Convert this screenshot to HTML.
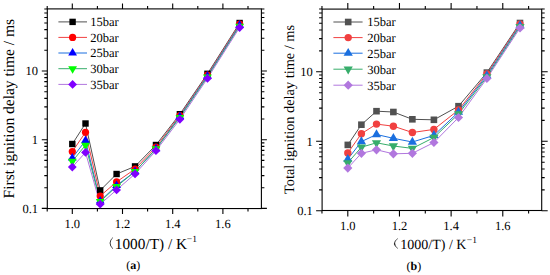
<!DOCTYPE html>
<html><head><meta charset="utf-8"><style>
html,body{margin:0;padding:0;background:#fff;}
svg{display:block;}
text{font-family:"Liberation Serif",serif;fill:#000;text-rendering:geometricPrecision;}
.tl{font-size:12.5px;}
.lg{font-size:12.5px;}
.ti{font-size:15.3px;}
.ti2{font-size:14.0px;}
.sup{font-size:8px;}
.lb{font-size:12px;}
</style></head><body>
<svg width="550" height="275" viewBox="0 0 550 275">
<rect width="550" height="275" fill="#fff"/>
<rect x="47.3" y="8.9" width="214.1" height="199.65" fill="none" stroke="#000" stroke-width="1.1"/>
<path d="M47.2 208.55v3M47.2 8.9v-3M72.3 208.55v5.5M72.3 8.9v-5.5M97.4 208.55v3M97.4 8.9v-3M122.5 208.55v5.5M122.5 8.9v-5.5M147.6 208.55v3M147.6 8.9v-3M172.7 208.55v5.5M172.7 8.9v-5.5M197.8 208.55v3M197.8 8.9v-3M222.9 208.55v5.5M222.9 8.9v-5.5M248 208.55v3M248 8.9v-3M47.3 208.4h-5.5M261.4 208.4h5.5M47.3 187.72h-3M261.4 187.72h3M47.3 175.62h-3M261.4 175.62h3M47.3 167.04h-3M261.4 167.04h3M47.3 160.38h-3M261.4 160.38h3M47.3 154.94h-3M261.4 154.94h3M47.3 150.34h-3M261.4 150.34h3M47.3 146.36h-3M261.4 146.36h3M47.3 142.84h-3M261.4 142.84h3M47.3 139.7h-5.5M261.4 139.7h5.5M47.3 119.02h-3M261.4 119.02h3M47.3 106.92h-3M261.4 106.92h3M47.3 98.34h-3M261.4 98.34h3M47.3 91.68h-3M261.4 91.68h3M47.3 86.24h-3M261.4 86.24h3M47.3 81.64h-3M261.4 81.64h3M47.3 77.66h-3M261.4 77.66h3M47.3 74.14h-3M261.4 74.14h3M47.3 71h-5.5M261.4 71h5.5M47.3 50.32h-3M261.4 50.32h3M47.3 38.22h-3M261.4 38.22h3M47.3 29.64h-3M261.4 29.64h3M47.3 22.98h-3M261.4 22.98h3M47.3 17.54h-3M261.4 17.54h3M47.3 12.94h-3M261.4 12.94h3M47.3 8.96h-3M261.4 8.96h3" stroke="#000" stroke-width="1.1" fill="none"/>
<text x="72.3" y="227.85" text-anchor="middle" class="tl">1.0</text>
<text x="122.5" y="227.85" text-anchor="middle" class="tl">1.2</text>
<text x="172.7" y="227.85" text-anchor="middle" class="tl">1.4</text>
<text x="222.9" y="227.85" text-anchor="middle" class="tl">1.6</text>
<text x="38" y="75.2" text-anchor="end" class="tl">10</text>
<text x="38" y="143.9" text-anchor="end" class="tl">1</text>
<text x="38" y="212.6" text-anchor="end" class="tl">0.1</text>
<polyline points="72.3,144 85.51,123.5 100.19,190.4 116.59,174 135.05,166.4 155.97,145 179.87,114.2 207.45,73.8 239.63,23" fill="none" stroke="#515151" stroke-width="1" stroke-linejoin="round"/>
<polyline points="72.3,151.6 85.51,132.3 100.19,196 116.59,181.9 135.05,169 155.97,147 179.87,115.5 207.45,75 239.63,24.2" fill="none" stroke="#F14040" stroke-width="1" stroke-linejoin="round"/>
<polyline points="72.3,158 85.51,140.5 100.19,201 116.59,185.5 135.05,171.5 155.97,148.8 179.87,116.5 207.45,76 239.63,25.2" fill="none" stroke="#1A6FDF" stroke-width="1" stroke-linejoin="round"/>
<polyline points="72.3,161.3 85.51,145.2 100.19,201.5 116.59,186.5 135.05,171.5 155.97,148.8 179.87,117.5 207.45,77 239.63,26.2" fill="none" stroke="#37AD6B" stroke-width="1" stroke-linejoin="round"/>
<polyline points="72.3,167.1 85.51,152.4 100.19,204.2 116.59,189.9 135.05,173.9 155.97,150.7 179.87,119.3 207.45,78.4 239.63,27.5" fill="none" stroke="#B177DE" stroke-width="1" stroke-linejoin="round"/>
<rect x="69.1" y="140.8" width="6.4" height="6.4" fill="#000000"/>
<rect x="82.31" y="120.3" width="6.4" height="6.4" fill="#000000"/>
<rect x="96.99" y="187.2" width="6.4" height="6.4" fill="#000000"/>
<rect x="113.39" y="170.8" width="6.4" height="6.4" fill="#000000"/>
<rect x="131.85" y="163.2" width="6.4" height="6.4" fill="#000000"/>
<rect x="152.77" y="141.8" width="6.4" height="6.4" fill="#000000"/>
<rect x="176.67" y="111" width="6.4" height="6.4" fill="#000000"/>
<rect x="204.25" y="70.6" width="6.4" height="6.4" fill="#000000"/>
<rect x="236.43" y="19.8" width="6.4" height="6.4" fill="#000000"/>
<circle cx="72.3" cy="151.6" r="3.6" fill="#FF0000"/>
<circle cx="85.51" cy="132.3" r="3.6" fill="#FF0000"/>
<circle cx="100.19" cy="196" r="3.6" fill="#FF0000"/>
<circle cx="116.59" cy="181.9" r="3.6" fill="#FF0000"/>
<circle cx="135.05" cy="169" r="3.6" fill="#FF0000"/>
<circle cx="155.97" cy="147" r="3.6" fill="#FF0000"/>
<circle cx="179.87" cy="115.5" r="3.6" fill="#FF0000"/>
<circle cx="207.45" cy="75" r="3.6" fill="#FF0000"/>
<circle cx="239.63" cy="24.2" r="3.6" fill="#FF0000"/>
<path d="M72.3 152.92L76.7 160.54L67.9 160.54Z" fill="#0000FF"/>
<path d="M85.51 135.42L89.91 143.04L81.11 143.04Z" fill="#0000FF"/>
<path d="M100.19 195.92L104.59 203.54L95.79 203.54Z" fill="#0000FF"/>
<path d="M116.59 180.42L120.99 188.04L112.19 188.04Z" fill="#0000FF"/>
<path d="M135.05 166.42L139.45 174.04L130.65 174.04Z" fill="#0000FF"/>
<path d="M155.97 143.72L160.37 151.34L151.57 151.34Z" fill="#0000FF"/>
<path d="M179.87 111.42L184.27 119.04L175.47 119.04Z" fill="#0000FF"/>
<path d="M207.45 70.92L211.85 78.54L203.05 78.54Z" fill="#0000FF"/>
<path d="M239.63 20.12L244.03 27.74L235.23 27.74Z" fill="#0000FF"/>
<path d="M72.3 166.38L76.7 158.76L67.9 158.76Z" fill="#00FF00"/>
<path d="M85.51 150.28L89.91 142.66L81.11 142.66Z" fill="#00FF00"/>
<path d="M100.19 206.58L104.59 198.96L95.79 198.96Z" fill="#00FF00"/>
<path d="M116.59 191.58L120.99 183.96L112.19 183.96Z" fill="#00FF00"/>
<path d="M135.05 176.58L139.45 168.96L130.65 168.96Z" fill="#00FF00"/>
<path d="M155.97 153.88L160.37 146.26L151.57 146.26Z" fill="#00FF00"/>
<path d="M179.87 122.58L184.27 114.96L175.47 114.96Z" fill="#00FF00"/>
<path d="M207.45 82.08L211.85 74.46L203.05 74.46Z" fill="#00FF00"/>
<path d="M239.63 31.28L244.03 23.66L235.23 23.66Z" fill="#00FF00"/>
<path d="M72.3 162.7L76.7 167.1L72.3 171.5L67.9 167.1Z" fill="#8000FF"/>
<path d="M85.51 148L89.91 152.4L85.51 156.8L81.11 152.4Z" fill="#8000FF"/>
<path d="M100.19 199.8L104.59 204.2L100.19 208.6L95.79 204.2Z" fill="#8000FF"/>
<path d="M116.59 185.5L120.99 189.9L116.59 194.3L112.19 189.9Z" fill="#8000FF"/>
<path d="M135.05 169.5L139.45 173.9L135.05 178.3L130.65 173.9Z" fill="#8000FF"/>
<path d="M155.97 146.3L160.37 150.7L155.97 155.1L151.57 150.7Z" fill="#8000FF"/>
<path d="M179.87 114.9L184.27 119.3L179.87 123.7L175.47 119.3Z" fill="#8000FF"/>
<path d="M207.45 74L211.85 78.4L207.45 82.8L203.05 78.4Z" fill="#8000FF"/>
<path d="M239.63 23.1L244.03 27.5L239.63 31.9L235.23 27.5Z" fill="#8000FF"/>
<rect x="322.1" y="9.1" width="219.6" height="201.4" fill="none" stroke="#000" stroke-width="1.1"/>
<path d="M321.97 210.5v3M321.97 9.1v-3M347.8 210.5v6M347.8 9.1v-6M373.63 210.5v3M373.63 9.1v-3M399.46 210.5v6M399.46 9.1v-6M425.29 210.5v3M425.29 9.1v-3M451.12 210.5v6M451.12 9.1v-6M476.95 210.5v3M476.95 9.1v-3M502.78 210.5v6M502.78 9.1v-6M528.61 210.5v3M528.61 9.1v-3M322.1 210.8h-6M541.7 210.8h6M322.1 189.88h-3M541.7 189.88h3M322.1 177.64h-3M541.7 177.64h3M322.1 168.96h-3M541.7 168.96h3M322.1 162.22h-3M541.7 162.22h3M322.1 156.72h-3M541.7 156.72h3M322.1 152.07h-3M541.7 152.07h3M322.1 148.04h-3M541.7 148.04h3M322.1 144.48h-3M541.7 144.48h3M322.1 141.3h-6M541.7 141.3h6M322.1 120.38h-3M541.7 120.38h3M322.1 108.14h-3M541.7 108.14h3M322.1 99.46h-3M541.7 99.46h3M322.1 92.72h-3M541.7 92.72h3M322.1 87.22h-3M541.7 87.22h3M322.1 82.57h-3M541.7 82.57h3M322.1 78.54h-3M541.7 78.54h3M322.1 74.98h-3M541.7 74.98h3M322.1 71.8h-6M541.7 71.8h6M322.1 50.88h-3M541.7 50.88h3M322.1 38.64h-3M541.7 38.64h3M322.1 29.96h-3M541.7 29.96h3M322.1 23.22h-3M541.7 23.22h3M322.1 17.72h-3M541.7 17.72h3M322.1 13.07h-3M541.7 13.07h3M322.1 9.04h-3M541.7 9.04h3" stroke="#000" stroke-width="1.1" fill="none"/>
<text x="347.8" y="229.8" text-anchor="middle" class="tl">1.0</text>
<text x="399.46" y="229.8" text-anchor="middle" class="tl">1.2</text>
<text x="451.12" y="229.8" text-anchor="middle" class="tl">1.4</text>
<text x="502.78" y="229.8" text-anchor="middle" class="tl">1.6</text>
<text x="312.8" y="76" text-anchor="end" class="tl">10</text>
<text x="312.8" y="145.5" text-anchor="end" class="tl">1</text>
<text x="312.8" y="215" text-anchor="end" class="tl">0.1</text>
<polyline points="347.8,144.9 361.39,124.7 376.5,111.2 393.38,112 412.38,119.3 433.9,119.8 458.5,106.2 486.88,72.6 520,23" fill="none" stroke="#515151" stroke-width="1" stroke-linejoin="round"/>
<polyline points="347.8,153 361.39,133.7 376.5,124.1 393.38,126.2 412.38,132.5 433.9,129.4 458.5,110 486.88,74 520,24.3" fill="none" stroke="#F14040" stroke-width="1" stroke-linejoin="round"/>
<polyline points="347.8,159.2 361.39,141.6 376.5,134.5 393.38,138.3 412.38,142 433.9,135.4 458.5,112 486.88,75.5 520,25.5" fill="none" stroke="#1A6FDF" stroke-width="1" stroke-linejoin="round"/>
<polyline points="347.8,162.8 361.39,147.2 376.5,142.8 393.38,146 412.38,148.4 433.9,137.5 458.5,114 486.88,77 520,26.6" fill="none" stroke="#37AD6B" stroke-width="1" stroke-linejoin="round"/>
<polyline points="347.8,168.1 361.39,153.3 376.5,149.8 393.38,153.8 412.38,153.3 433.9,142.5 458.5,117.5 486.88,78.4 520,28" fill="none" stroke="#B177DE" stroke-width="1" stroke-linejoin="round"/>
<rect x="344.5" y="141.6" width="6.6" height="6.6" fill="#515151"/>
<rect x="358.09" y="121.4" width="6.6" height="6.6" fill="#515151"/>
<rect x="373.2" y="107.9" width="6.6" height="6.6" fill="#515151"/>
<rect x="390.08" y="108.7" width="6.6" height="6.6" fill="#515151"/>
<rect x="409.07" y="116" width="6.6" height="6.6" fill="#515151"/>
<rect x="430.6" y="116.5" width="6.6" height="6.6" fill="#515151"/>
<rect x="455.2" y="102.9" width="6.6" height="6.6" fill="#515151"/>
<rect x="483.58" y="69.3" width="6.6" height="6.6" fill="#515151"/>
<rect x="516.7" y="19.7" width="6.6" height="6.6" fill="#515151"/>
<circle cx="347.8" cy="153" r="3.7" fill="#F14040"/>
<circle cx="361.39" cy="133.7" r="3.7" fill="#F14040"/>
<circle cx="376.5" cy="124.1" r="3.7" fill="#F14040"/>
<circle cx="393.38" cy="126.2" r="3.7" fill="#F14040"/>
<circle cx="412.38" cy="132.5" r="3.7" fill="#F14040"/>
<circle cx="433.9" cy="129.4" r="3.7" fill="#F14040"/>
<circle cx="458.5" cy="110" r="3.7" fill="#F14040"/>
<circle cx="486.88" cy="74" r="3.7" fill="#F14040"/>
<circle cx="520" cy="24.3" r="3.7" fill="#F14040"/>
<path d="M347.8 153.89L352.4 161.86L343.2 161.86Z" fill="#1A6FDF"/>
<path d="M361.39 136.29L365.99 144.26L356.79 144.26Z" fill="#1A6FDF"/>
<path d="M376.5 129.19L381.1 137.16L371.9 137.16Z" fill="#1A6FDF"/>
<path d="M393.38 132.99L397.98 140.96L388.78 140.96Z" fill="#1A6FDF"/>
<path d="M412.38 136.69L416.98 144.66L407.77 144.66Z" fill="#1A6FDF"/>
<path d="M433.9 130.09L438.5 138.06L429.3 138.06Z" fill="#1A6FDF"/>
<path d="M458.5 106.69L463.1 114.66L453.9 114.66Z" fill="#1A6FDF"/>
<path d="M486.88 70.19L491.48 78.16L482.28 78.16Z" fill="#1A6FDF"/>
<path d="M520 20.19L524.6 28.16L515.4 28.16Z" fill="#1A6FDF"/>
<path d="M347.8 168.11L352.4 160.14L343.2 160.14Z" fill="#37AD6B"/>
<path d="M361.39 152.51L365.99 144.54L356.79 144.54Z" fill="#37AD6B"/>
<path d="M376.5 148.11L381.1 140.14L371.9 140.14Z" fill="#37AD6B"/>
<path d="M393.38 151.31L397.98 143.34L388.78 143.34Z" fill="#37AD6B"/>
<path d="M412.38 153.71L416.98 145.74L407.77 145.74Z" fill="#37AD6B"/>
<path d="M433.9 142.81L438.5 134.84L429.3 134.84Z" fill="#37AD6B"/>
<path d="M458.5 119.31L463.1 111.34L453.9 111.34Z" fill="#37AD6B"/>
<path d="M486.88 82.31L491.48 74.34L482.28 74.34Z" fill="#37AD6B"/>
<path d="M520 31.91L524.6 23.94L515.4 23.94Z" fill="#37AD6B"/>
<path d="M347.8 163.5L352.4 168.1L347.8 172.7L343.2 168.1Z" fill="#B177DE"/>
<path d="M361.39 148.7L365.99 153.3L361.39 157.9L356.79 153.3Z" fill="#B177DE"/>
<path d="M376.5 145.2L381.1 149.8L376.5 154.4L371.9 149.8Z" fill="#B177DE"/>
<path d="M393.38 149.2L397.98 153.8L393.38 158.4L388.78 153.8Z" fill="#B177DE"/>
<path d="M412.38 148.7L416.98 153.3L412.38 157.9L407.77 153.3Z" fill="#B177DE"/>
<path d="M433.9 137.9L438.5 142.5L433.9 147.1L429.3 142.5Z" fill="#B177DE"/>
<path d="M458.5 112.9L463.1 117.5L458.5 122.1L453.9 117.5Z" fill="#B177DE"/>
<path d="M486.88 73.8L491.48 78.4L486.88 83L482.28 78.4Z" fill="#B177DE"/>
<path d="M520 23.4L524.6 28L520 32.6L515.4 28Z" fill="#B177DE"/>
<path d="M58.4 21.9H87" stroke="#515151" stroke-width="1"/>
<rect x="69.4" y="18.7" width="6.4" height="6.4" fill="#000000"/>
<text x="90.3" y="26.2" class="lg">15bar</text>
<path d="M58.4 37.4H87" stroke="#F14040" stroke-width="1"/>
<circle cx="72.6" cy="37.4" r="3.6" fill="#FF0000"/>
<text x="90.3" y="41.7" class="lg">20bar</text>
<path d="M58.4 53H87" stroke="#1A6FDF" stroke-width="1"/>
<path d="M72.6 47.92L77 55.54L68.2 55.54Z" fill="#0000FF"/>
<text x="90.3" y="57.3" class="lg">25bar</text>
<path d="M58.4 68.7H87" stroke="#37AD6B" stroke-width="1"/>
<path d="M72.6 73.78L77 66.16L68.2 66.16Z" fill="#00FF00"/>
<text x="90.3" y="73" class="lg">30bar</text>
<path d="M58.4 84.4H87" stroke="#B177DE" stroke-width="1"/>
<path d="M72.6 80L77 84.4L72.6 88.8L68.2 84.4Z" fill="#8000FF"/>
<text x="90.3" y="88.7" class="lg">35bar</text>
<path d="M333.4 22H362.6" stroke="#515151" stroke-width="1"/>
<rect x="344.9" y="18.7" width="6.6" height="6.6" fill="#515151"/>
<text x="367.3" y="26.3" class="lg">15bar</text>
<path d="M333.4 37.6H362.6" stroke="#F14040" stroke-width="1"/>
<circle cx="348.2" cy="37.6" r="3.7" fill="#F14040"/>
<text x="367.3" y="41.9" class="lg">20bar</text>
<path d="M333.4 53.2H362.6" stroke="#1A6FDF" stroke-width="1"/>
<path d="M348.2 47.89L352.8 55.86L343.6 55.86Z" fill="#1A6FDF"/>
<text x="367.3" y="57.5" class="lg">25bar</text>
<path d="M333.4 69.2H362.6" stroke="#37AD6B" stroke-width="1"/>
<path d="M348.2 74.51L352.8 66.54L343.6 66.54Z" fill="#37AD6B"/>
<text x="367.3" y="73.5" class="lg">30bar</text>
<path d="M333.4 85.2H362.6" stroke="#B177DE" stroke-width="1"/>
<path d="M348.2 80.6L352.8 85.2L348.2 89.8L343.6 85.2Z" fill="#B177DE"/>
<text x="367.3" y="89.5" class="lg">35bar</text>
<text transform="translate(14 198.4) rotate(-90)" class="ti" style="font-size:15.5px">First ignition delay time / ms</text>
<text transform="translate(294 194.0) rotate(-90)" class="ti2" style="font-size:14.35px">Total ignition delay time / ms</text>
<path d="M112.8 237.2Q106.3 243.1 112.8 249L113.1 248.6Q107.9 243.1 113.1 237.6Z" fill="#222"/><text x="114.8" y="248.8" class="ti">1000/T) / K</text><text x="186.8" y="242.4" style="font-size:9.5px">&#8722;1</text>
<path d="M397.8 238.2Q390.2 243.5 397.8 248.8L398.1 248.4Q391.8 243.5 398.1 238.6Z" fill="#222"/><text x="400.3" y="249" class="ti2">1000/T) / K</text><text x="466.8" y="242.9" style="font-size:9.5px">&#8722;1</text>
<text x="126.3" y="269.4" class="lb">(<tspan font-weight="bold">a</tspan>)</text>
<text x="406.6" y="269.6" class="lb">(<tspan font-weight="bold">b</tspan>)</text>
</svg></body></html>
